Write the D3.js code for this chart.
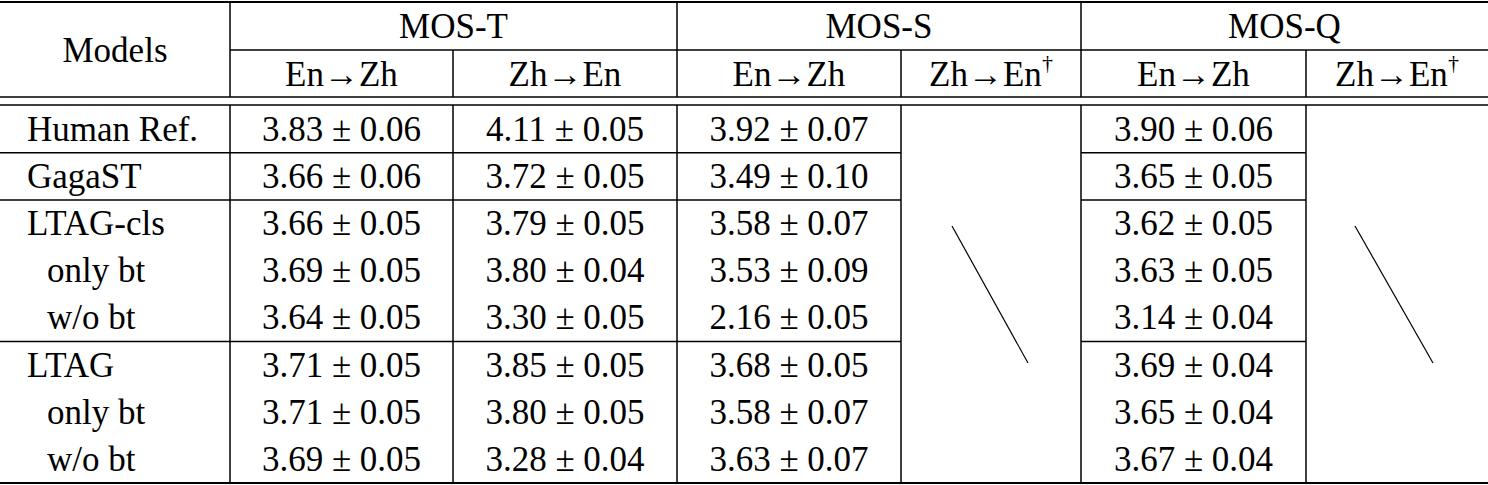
<!DOCTYPE html>
<html><head><meta charset="utf-8">
<script src="https://cdn.jsdelivr.net/npm/d3@7"></script>
<style>body{margin:0;background:#fff}</style></head>
<body><svg id="c" width="1488" height="485"></svg>
<script>
const groups = ["MOS-T","MOS-S","MOS-Q"];
const subHeaders = ["En→Zh","Zh→En","En→Zh","Zh→En†","En→Zh","Zh→En†"];
const models = ["Human Ref.","GagaST","LTAG-cls","only bt","w/o bt","LTAG","only bt","w/o bt"];
const indent = [0,0,0,1,1,0,1,1];
const mosT_EnZh = ["3.83 ± 0.06","3.66 ± 0.06","3.66 ± 0.05","3.69 ± 0.05","3.64 ± 0.05","3.71 ± 0.05","3.71 ± 0.05","3.69 ± 0.05"];
const mosT_ZhEn = ["4.11 ± 0.05","3.72 ± 0.05","3.79 ± 0.05","3.80 ± 0.04","3.30 ± 0.05","3.85 ± 0.05","3.80 ± 0.05","3.28 ± 0.04"];
const mosS_EnZh = ["3.92 ± 0.07","3.49 ± 0.10","3.58 ± 0.07","3.53 ± 0.09","2.16 ± 0.05","3.68 ± 0.05","3.58 ± 0.07","3.63 ± 0.07"];
const mosQ_EnZh = ["3.90 ± 0.06","3.65 ± 0.05","3.62 ± 0.05","3.63 ± 0.05","3.14 ± 0.04","3.69 ± 0.04","3.65 ± 0.04","3.67 ± 0.04"];
const groupBreaks = [0,1,4]; // row indices after which a rule is drawn

const svg = d3.select("#c");
const colX = [0,230,453,677,901,1081,1306,1488];
const x = i => colX[i];
const y = d3.scaleLinear().domain([0,8]).range([105.5,483]);
const rowH = y(1)-y(0);
const font = "Liberation Serif, Times New Roman, Times, DejaVu Serif, serif";
const T = (tx,ty,s,anchor="middle") => {
  const t = svg.append("text").attr("x",tx).attr("y",ty).attr("font-family",font)
    .attr("font-size",35).attr("text-anchor",anchor).attr("dominant-baseline","central").attr("fill","#000");
  if (s.endsWith("†")) { t.append("tspan").text(s.slice(0,-1)); t.append("tspan").attr("font-size",22).attr("dy",-12).text("†"); }
  else t.text(s);
  return t;
};
const L = (x1,y1,x2,y2,w=1.5)=>svg.append("line").attr("x1",x1).attr("y1",y1).attr("x2",x2).attr("y2",y2).attr("stroke","#000").attr("stroke-width",w);

L(0,2,1488,2,1.8);
L(230,50,1488,50);
L(0,97,1488,97); L(0,105,1488,105);
L(0,483,1488,483,1.8);
groupBreaks.forEach(r=>{ const yy=y(r+1); L(0,yy,901,yy); L(1081,yy,1306,yy); });
[[230,2],[453,50],[677,2],[901,50],[1081,2],[1306,50]].forEach(([xx,y0])=>{ L(xx,y0,xx,97); L(xx,105,xx,483); });

T(115,50,"Models");
groups.forEach((g,i)=>T((x(1+2*i)+x(3+2*i))/2,26,g));
subHeaders.forEach((s,i)=>T((x(1+i)+x(2+i))/2,74,s));

const cols = [mosT_EnZh,mosT_ZhEn,mosS_EnZh,null,mosQ_EnZh,null];
models.forEach((m,r)=>{
  const cy = y(r)+rowH/2;
  T(indent[r]?47:27,cy,m,"start");
  cols.forEach((c,j)=>{ if(c) T((x(1+j)+x(2+j))/2,cy,c[r]); });
});
[[952,1028],[1355,1433]].forEach(([a,b])=>L(a,226,b,363,1.2));
</script></body></html>
